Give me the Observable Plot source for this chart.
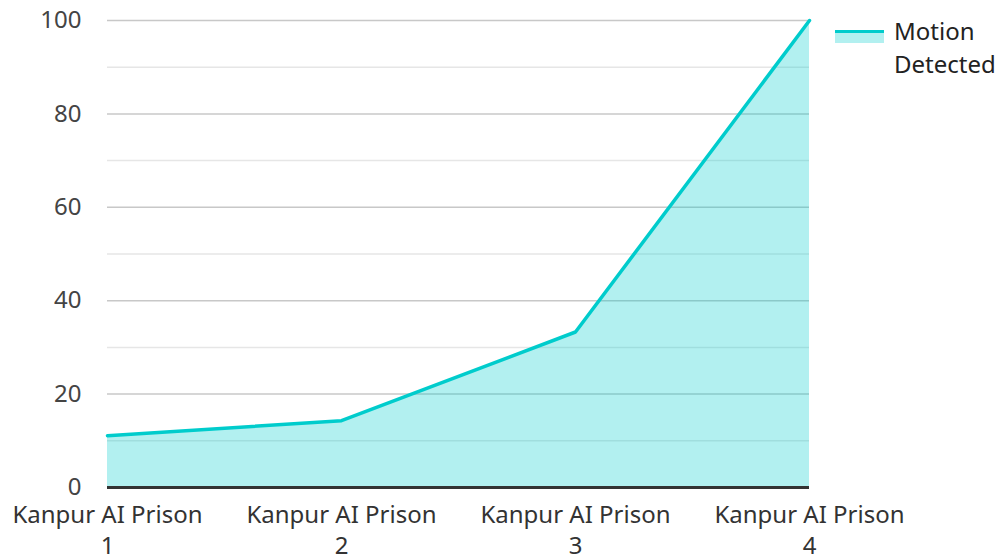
<!DOCTYPE html>
<html>
<head>
<meta charset="utf-8">
<script src="https://cdn.jsdelivr.net/npm/d3@7"></script>
<script src="https://cdn.jsdelivr.net/npm/@observablehq/plot@0.6"></script>
<style>
  html, body { margin: 0; padding: 0; background: #fff; }
  #wrap { position: relative; width: 1001px; height: 556px; font-family: "Noto Sans", sans-serif; }
  #legend { position: absolute; left: 835px; top: 14px; font-size: 24px; color: #222; line-height: 33px; }
  #legend .sw { position: absolute; left: 0; top: 16px; width: 49px; height: 13px; background: rgba(0,204,204,0.3); border-top: 3px solid #00cccc; box-sizing: border-box; }
  #legend .txt { position: absolute; left: 59px; top: 0; white-space: nowrap; }
</style>
</head>
<body>
<div id="wrap">
  <div id="chart"></div>
  <div id="legend"><div class="sw"></div><div class="txt">Motion<br>Detected</div></div>
</div>
<script>
const categories = ["Kanpur AI Prison 1", "Kanpur AI Prison 2", "Kanpur AI Prison 3", "Kanpur AI Prison 4"];
const motionDetected = [11.1, 14.3, 33.3, 100];
const majorTicks = [20, 40, 60, 80, 100];
const minorTicks = [10, 30, 50, 70, 90];
const yTicks = [0, 20, 40, 60, 80, 100];

const data = categories.map((c, i) => ({cat: c, value: motionDetected[i]}));

const chart = Plot.plot({
  width: 1001,
  height: 556,
  marginLeft: 107,
  marginRight: 192,
  marginTop: 20,
  marginBottom: 69,
  style: {fontFamily: "Noto Sans, sans-serif", fontSize: "24px", color: "#444", background: "#fff", overflow: "visible"},
  x: {type: "point", domain: categories, padding: 0},
  y: {domain: [0, 100]},
  marks: [
    Plot.ruleY(minorTicks, {stroke: "#e6e6e6", strokeWidth: 1.5}),
    Plot.ruleY(majorTicks, {stroke: "#c8c8c8", strokeWidth: 1.5}),
    Plot.areaY(data, {x: "cat", y: "value", fill: "#00cccc", fillOpacity: 0.3}),
    Plot.lineY(data, {x: "cat", y: "value", stroke: "#00cccc", strokeWidth: 3.5}),
    Plot.ruleY([0], {stroke: "#333", strokeWidth: 3}),
    Plot.axisY({ticks: yTicks, tickSize: 0, tickPadding: 26, label: null, fill: "#444", fontSize: 24}),
    Plot.axisX({tickSize: 0, tickPadding: 13, label: null, fill: "#333", fontSize: 24, lineHeight: 1.3,
      tickFormat: d => d.replace(/ (\d+)$/, "\n$1")})
  ]
});
document.getElementById("chart").appendChild(chart);
</script>
</body>
</html>
